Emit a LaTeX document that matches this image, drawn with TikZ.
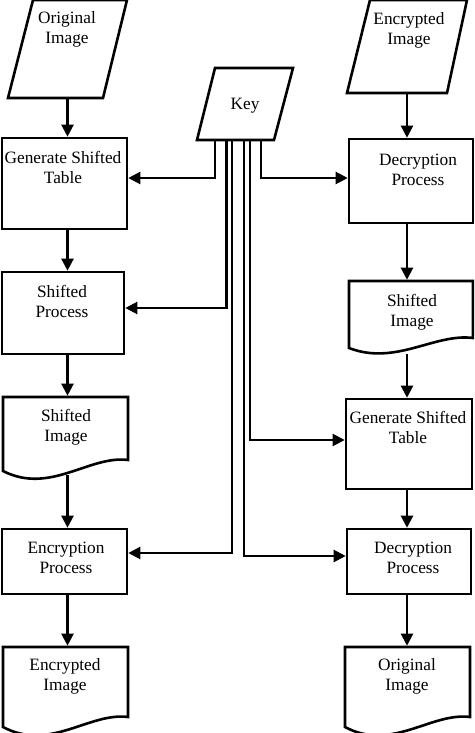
\documentclass[tikz,border=0pt]{standalone}
\usepackage{fontspec}
\setmainfont{Liberation Serif}
\usetikzlibrary{arrows.meta}
\begin{document}
\begin{tikzpicture}[x=1pt,y=-1pt,
  outline/.style={draw=black, line width=2.6pt, line join=miter},
  procbox/.style={outline, rectangle, inner sep=0pt},
  frame/.style={inner sep=0pt, outer sep=1.3pt},
  lbl/.style={align=center, inner sep=0pt, font=\fontsize{17.3}{20}\selectfont},
  conn/.style={line width=2.2pt, -{Triangle[length=12pt,width=12pt]}}]
\useasboundingbox (0,0) rectangle (474,733);
\clip (0,0) rectangle (474,733);

% ---------- left column ----------
\node[frame, minimum width=119pt, minimum height=98pt] (oi) at (67.5,49) {};
\draw[outline] (33,0) -- (127,0) -- (103,98) -- (8,98) -- cycle;
\node[lbl] (oit) at (67,29.5) {Original\\Image};

\node[procbox, minimum width=125pt, minimum height=91pt] (gst) at (64.5,183.5) {};
\node[lbl] (gstt) at (63,167.5) {Generate Shifted\\Table};

\node[procbox, minimum width=122pt, minimum height=82pt] (sp) at (63,313) {};
\node[lbl] (spt) at (62,301.5) {Shifted\\Process};

\node[frame, minimum width=125pt, minimum height=77pt] (si) at (65.5,435.5) {};
\draw[outline] (3,397) -- (128,397) -- (128,460) .. controls (89.3,455) and (50,495) .. (3,471) -- cycle;
\node[lbl] (sit) at (66,427) {Shifted\\Image};

\node[procbox, minimum width=125pt, minimum height=65pt] (enc) at (64.5,561.5) {};
\node[lbl] (enct) at (66,558) {Encryption\\Process};

\node[frame, minimum width=125pt, minimum height=86pt] (ed) at (65.5,690) {};
\draw[outline] (3,647) -- (128,647) -- (128,717) .. controls (89.3,712) and (50,752) .. (3,727) -- cycle;
\node[lbl] (edt) at (65,676.5) {Encrypted\\Image};

% ---------- right column ----------
\node[frame, minimum width=120pt, minimum height=93pt] (ei) at (407,46.5) {};
\draw[outline] (370,0) -- (467,0) -- (447,93) -- (347,93) -- cycle;
\node[lbl] (eit) at (409,30) {Encrypted\\Image};

\node[procbox, minimum width=124pt, minimum height=84pt] (dp1) at (411,181) {};
\node[lbl] (dp1t) at (418,170) {Decryption\\Process};

\node[frame, minimum width=124pt, minimum height=72pt] (si2) at (411,317) {};
\draw[outline] (349,281) -- (473,281) -- (473,338) .. controls (434.6,333) and (395.6,366) .. (349,348) -- cycle;
\node[lbl] (si2t) at (412,312) {Shifted\\Image};

\node[procbox, minimum width=126pt, minimum height=90pt] (gst2) at (409,444) {};
\node[lbl] (gst2t) at (408,427.5) {Generate Shifted\\Table};

\node[procbox, minimum width=124pt, minimum height=65pt] (dp2) at (409,561.5) {};
\node[lbl] (dp2t) at (413,557.5) {Decryption\\Process};

\node[frame, minimum width=125pt, minimum height=86pt] (od) at (407.5,690) {};
\draw[outline] (345,647) -- (470,647) -- (470,717) .. controls (431,712) and (392,752) .. (345,727) -- cycle;
\node[lbl] (odt) at (407,676.5) {Original\\Image};

% ---------- key ----------
\node[frame, minimum width=96pt, minimum height=72pt, outer sep=0pt] (key) at (245,104) {};
\draw[outline] (215,68) -- (293,68) -- (274,140) -- (197,140) -- cycle;
\node[lbl] (keyt) at (245,106) {Key};

% ---------- flow arrows ----------
\draw[conn] (oi.south) -- (oi.south |- gst.north);
\draw[conn] (gst.south -| oi) -- (sp.north -| oi);
\draw[conn] (sp.south -| oi) -- (si.north -| oi);
\draw[conn] (si.south -| oi) -- (enc.north -| oi);
\draw[conn] (enc.south -| oi) -- (ed.north -| oi);

\draw[conn] (ei.south) -- (ei.south |- dp1.north);
\draw[conn] (dp1.south -| ei) -- (si2.north -| ei);
\draw[conn] (si2.south -| ei) -- (gst2.north -| ei);
\draw[conn] (gst2.south -| ei) -- (dp2.north -| ei);
\draw[conn] (dp2.south -| ei) -- (od.north -| ei);

% ---------- key wires ----------
\draw[conn] ([xshift=-30pt]key.south) |- ([yshift=5.5pt]gst.east);
\draw[conn] ([xshift=-18.5pt]key.south) |- ([yshift=5pt]sp.east);
\draw[conn] ([xshift=-13pt]key.south) |- ([yshift=8.5pt]enc.east);
\draw[conn] ([xshift=-1pt]key.south) |- ([yshift=5.5pt]dp2.west);
\draw[conn] ([xshift=5pt]key.south) |- ([yshift=4pt]gst2.west);
\draw[conn] ([xshift=16pt]key.south) |- ([yshift=3pt]dp1.west);
\end{tikzpicture}
\end{document}
